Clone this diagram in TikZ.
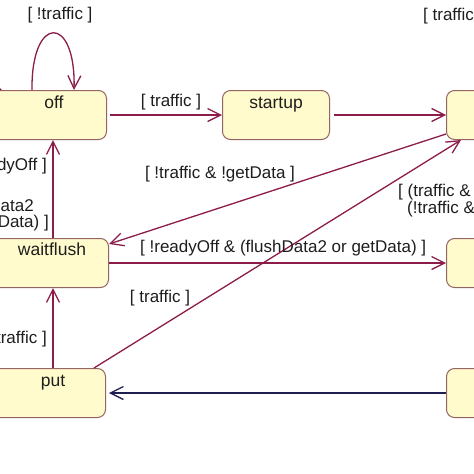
\documentclass[tikz,border=0pt]{standalone}
\usepackage{fontspec}
\setmainfont{Liberation Sans}
\usetikzlibrary{arrows.meta}
\definecolor{transcol}{RGB}{140,28,74}
\definecolor{navycol}{RGB}{30,30,80}
\definecolor{boxline}{RGB}{150,100,100}
\definecolor{boxfill}{RGB}{255,251,204}
\definecolor{txt}{RGB}{30,30,30}
\begin{document}
\begin{tikzpicture}[x=1pt,y=-1pt,
  statebox/.style={draw=boxline, fill=boxfill, rounded corners=8pt, line width=1pt,
    minimum height=49pt, inner sep=0pt, anchor=north west},
  title/.style={font=\fontsize{17.5}{20}\selectfont, text=txt, inner sep=0pt, anchor=base},
  lbl/.style={font=\fontsize{17}{16}\selectfont, text=txt, inner sep=0pt},
  trans/.style={draw=transcol, line width=1.3pt, -{Straight Barb[length=13pt,width=13pt]}},
  navytrans/.style={trans, draw=navycol},
]
\useasboundingbox (0,0) rectangle (474,474);
\clip (0,0) rectangle (474,474);
\fill[white] (0,0) rectangle (474,474);

% states
\node[statebox, minimum width=118pt] (offbox) at (-12,90) {};
\node[statebox, minimum width=107pt] (startbox) at (222,90) {};
\node[statebox, minimum width=114pt] (trbox) at (446,90) {};
\node[statebox, minimum width=118pt] (wfbox) at (-10,238) {};
\node[statebox, minimum width=114pt] (rmbox) at (446,238) {};
\node[statebox, minimum width=117pt] (putbox) at (-12,368) {};
\node[statebox, minimum width=114pt] (brbox) at (446,368) {};

\node[title] (offname) at (54,108) {off};
\node[title] (startname) at (276,108) {startup};
\node[title] (wfname) at (52,255) {waitflush};
\node[title] (putname) at (53,386) {put};

% transitions
\coordinate (offin) at (-60,70);
\draw[trans] (offin) -- ([xshift=14pt]offbox.north west);
\draw[trans] (32,0 |- offbox.north) .. controls (31,14) and (76,14) .. (74,0 |- offbox.north);
\draw[trans, shorten <=3pt] (offbox.east) -- (startbox.west);
\draw[trans, shorten <=4pt] (startbox.east) -- (trbox.west);
\draw[trans] ([yshift=6pt]trbox.south west) -- ([yshift=-6pt]wfbox.north east);
\draw[trans] ([xshift=-12pt]putbox.north east) -- ([xshift=15pt]trbox.south west);
\draw[trans] (wfbox.east) -- (rmbox.west);
\draw[trans] (53,0 |- wfbox.north) -- (53,0 |- offbox.south);
\draw[trans] (53,0 |- putbox.north) -- (53,0 |- wfbox.south);
\draw[navytrans, shorten >=3pt] (brbox.west) -- (putbox.east);

% labels
\node[lbl, anchor=base] (l1) at (60,19) {[ !traffic ]};
\node[lbl, anchor=base] (l2) at (171,106) {[ traffic ]};
\node[lbl, anchor=base west] (l3) at (423,20) {[ traffic ]};
\node[lbl, anchor=base] (l4) at (220,178) {[ !traffic \& !getData ]};
\node[lbl, anchor=base west] (l5) at (140,252) {[ !readyOff \& (flushData2 or getData) ]};
\node[lbl, anchor=base] (l6) at (160,302) {[ traffic ]};
\node[lbl, anchor=base west] (l7) at (398,196) {[ (traffic \& readyOff) or};
\node[lbl, anchor=base west] (l8) at (407,213) {(!traffic \& getData) ]};
\node[lbl, anchor=base east] (l9) at (47,170) {[ readyOff ]};
\node[lbl, anchor=base east] (l10) at (34,211) {[ readyOff \& (flushData2};
\node[lbl, anchor=base east] (l11) at (49,227) {or getData) ]};
\node[lbl, anchor=base east] (l12) at (47,343) {[ !traffic ]};
\end{tikzpicture}
\end{document}
